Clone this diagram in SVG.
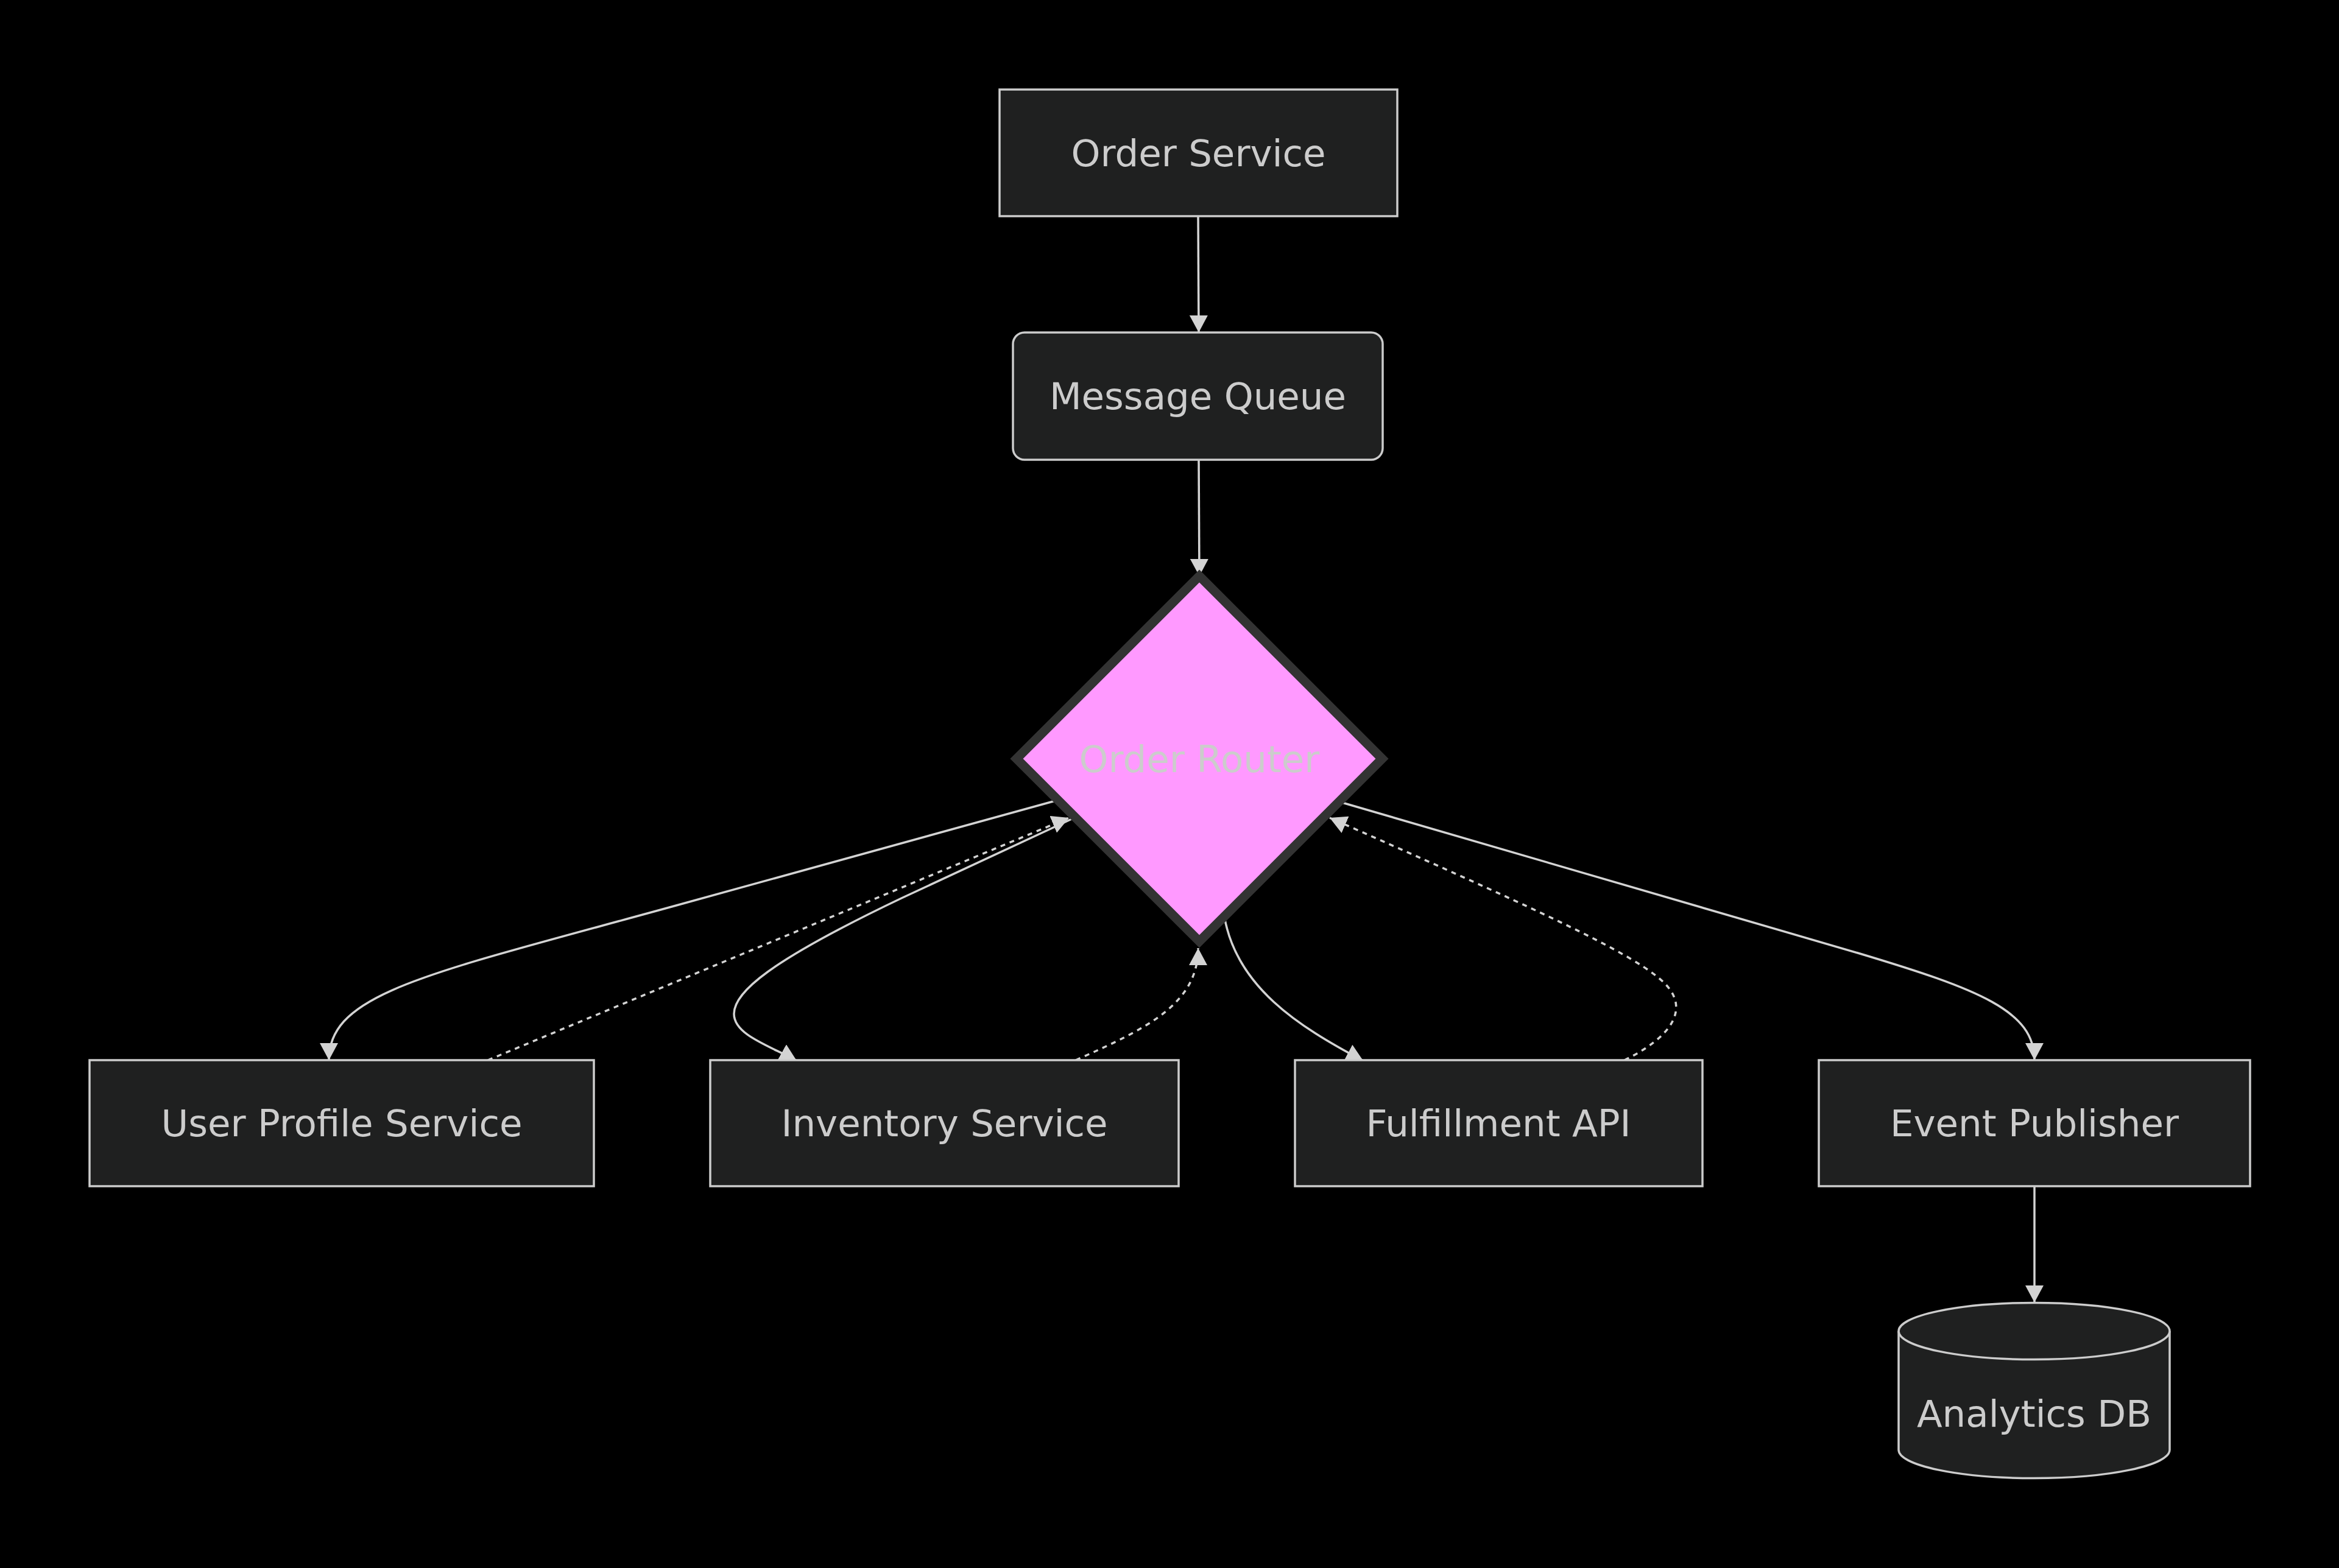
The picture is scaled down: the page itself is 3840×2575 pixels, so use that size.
<svg xmlns="http://www.w3.org/2000/svg" width="3840" height="2575" viewBox="0 0 3840 2575">
  <style>
    .node { fill: #1f2020; stroke: #cccccc; stroke-width: 3.5; }
    .lbl { font-family: "DejaVu Sans", "Liberation Sans", sans-serif; font-size: 61px; fill: #cccccc; text-anchor: middle; }
    .edge { fill: none; stroke: #d3d3d3; stroke-width: 3.5; }
    .dash { stroke-dasharray: 8 8; }
  </style>
  <defs>
    <marker id="arrow" markerUnits="userSpaceOnUse" viewBox="0 0 28 30" markerWidth="28" markerHeight="30" refX="28" refY="15" orient="auto">
      <path d="M0 0 L28 15 L0 30 Z" fill="#d3d3d3"/>
    </marker>
  </defs>
  <rect x="0" y="0" width="3840" height="2575" fill="#000000"/>

  <g id="connectors">
    <path class="edge" d="M 1967 355 L 1968 546" marker-end="url(#arrow)"/>
    <path class="edge" d="M 1968 755 L 1969 946" marker-end="url(#arrow)"/>
    <path class="edge" d="M 1740 1313 L 1110 1487 C 700 1600, 540 1630, 540 1741" marker-end="url(#arrow)"/>
    <path class="edge dash" d="M 801 1741 L 1755 1343" marker-end="url(#arrow)"/>
    <path class="edge" d="M 1770 1340 L 1480 1475 C 1260 1580, 1205 1630, 1205 1665 C 1205 1700, 1265 1718, 1308 1742" marker-end="url(#arrow)"/>
    <path class="edge dash" d="M 1766 1741 C 1880 1690, 1967 1650, 1967 1557" marker-end="url(#arrow)"/>
    <path class="edge" d="M 2010 1505 C 2030 1620, 2130 1685, 2238 1742" marker-end="url(#arrow)"/>
    <path class="edge dash" d="M 2667 1741 C 2740 1705, 2775 1660, 2735 1617 C 2690 1570, 2550 1505, 2183 1343" marker-end="url(#arrow)"/>
    <path class="edge" d="M 2200 1317 L 3050 1565 C 3250 1625, 3340 1660, 3340 1741" marker-end="url(#arrow)"/>
    <path class="edge" d="M 3340 1948 L 3340 2139" marker-end="url(#arrow)"/>
  </g>

  <g id="order-service">
    <rect class="node" x="1641" y="147" width="653" height="208"/>
    <text class="lbl" x="1967.5" y="273">Order Service</text>
  </g>
  <g id="message-queue">
    <rect class="node" x="1663" y="546" width="607" height="209" rx="19" ry="19"/>
    <text class="lbl" x="1966.5" y="672">Message Queue</text>
  </g>
  <g id="order-router">
    <polygon points="1969,946 2269,1246 1969,1546 1669,1246" fill="#ff99ff" stroke="#333333" stroke-width="15"/>
    <text class="lbl" x="1969" y="1268">Order Router</text>
  </g>
  <g id="user-profile-service">
    <rect class="node" x="147" y="1741" width="828" height="207"/>
    <text class="lbl" x="561" y="1866">User Profile Service</text>
  </g>
  <g id="inventory-service">
    <rect class="node" x="1166" y="1741" width="769" height="207"/>
    <text class="lbl" x="1550.5" y="1866">Inventory Service</text>
  </g>
  <g id="fulfillment-api">
    <rect class="node" x="2126" y="1741" width="669" height="207"/>
    <text class="lbl" x="2460" y="1866">Fulfillment API</text>
  </g>
  <g id="event-publisher">
    <rect class="node" x="2986" y="1741" width="708" height="207"/>
    <text class="lbl" x="3340" y="1866">Event Publisher</text>
  </g>
  <g id="analytics-db">
    <path class="node" d="M 3117 2186 A 222.5 46.5 0 0 1 3562 2186 L 3562 2381 A 222.5 46.5 0 0 1 3117 2381 Z"/>
    <path class="node" d="M 3117 2186 A 222.5 46.5 0 0 0 3562 2186" fill="none"/>
    <text class="lbl" x="3339.5" y="2343">Analytics DB</text>
  </g>
</svg>
